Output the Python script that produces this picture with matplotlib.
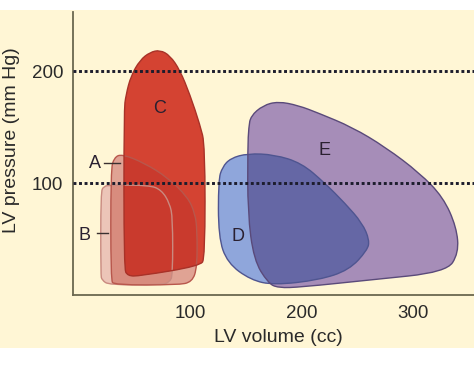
import matplotlib
matplotlib.use("Agg")
import matplotlib.pyplot as plt
from matplotlib.patches import PathPatch, Rectangle
from matplotlib.path import Path

# outlines of the pressure-volume loops (volume in cc, pressure in mm Hg)
loop_b = [(20, 92), (22.7, 97.3), (29, 98.2), (63.6, 98.2), (74.5, 93.8), (81.8, 82),
          (84.5, 68.8), (84.5, 18), (81.8, 11.6), (74.5, 9), (27.3, 9), (21, 13.4), (20, 18)]
loop_a = [(39, 126), (59, 118), (80, 105), (98, 87.5), (104.5, 73), (106.4, 58),
          (106.4, 25), (102, 11.6), (89, 9), (32, 9), (29, 13.4), (29, 111.6), (32, 123)]
loop_c = [(40.8, 24), (40.8, 165), (42.6, 179), (47.1, 196), (55.2, 210), (64.1, 217),
          (73.1, 219), (82.1, 214), (91, 201), (100, 179), (109, 152), (113.5, 134),
          (113.5, 33), (109, 26), (55, 17), (44, 17)]
loop_d = [(125.5, 102.7), (129, 114.3), (136.4, 122.3), (151.8, 126.5), (175.5, 125.5),
          (200, 118), (221, 100), (239, 82), (254.5, 64.3), (261, 49), (259, 40),
          (242.7, 22.3), (215.5, 13.4), (175.5, 8.9), (154.5, 13.4), (133.6, 28.6),
          (125.5, 51.8)]
loop_e = [(152.7, 150), (154.5, 160), (165.5, 169.5), (179, 173), (197, 169.5),
          (215.5, 162.5), (245.5, 150), (275.5, 132), (306, 109), (327, 87.5), (339, 60.7),
          (341, 37.5), (330, 20.5), (261, 13.4), (200, 7.1), (179, 6.3), (170, 10.7),
          (157.3, 31.3), (151.8, 73.2), (151.8, 132)]

loop_names = ["A", "B", "C", "D", "E"]
name_pos = [(14.8, 118), (5.8, 53.6), (73, 167), (143, 52.7), (221, 129.5)]
leader_a = ([23, 37], [118, 118])
leader_b = ([16.6, 26.5], [55, 55])

ref_pressures = [100, 200]
x_ticks = [100, 200, 300]
y_ticks = [100, 200]

cream = "#fff6d5"
txt = "#2a2a2a"
plt.rcParams["font.family"] = ["Liberation Sans", "DejaVu Sans"]

fig = plt.figure(figsize=(4.74, 3.72), dpi=100)
fig.patch.set_facecolor("white")
fig.patches.append(Rectangle((0, 24 / 372), 1, 338 / 372, transform=fig.transFigure,
                             facecolor=cream, edgecolor="none", zorder=-10))
ax = fig.add_axes([73 / 474, 77 / 372, 401 / 474, 283 / 372])
ax.set_facecolor("none")


def rounded(pts):
    # closed quadratic bezier path: outline points act as control points
    n = len(pts)
    mids = [((pts[i][0] + pts[(i + 1) % n][0]) / 2, (pts[i][1] + pts[(i + 1) % n][1]) / 2)
            for i in range(n)]
    verts = [mids[-1]]
    codes = [Path.MOVETO]
    for i in range(n):
        verts += [pts[i], mids[i]]
        codes += [Path.CURVE3, Path.CURVE3]
    verts.append(mids[-1])
    codes.append(Path.CLOSEPOLY)
    return Path(verts, codes)


def fill(pts, color, clip=None, z=1):
    p = PathPatch(rounded(pts), facecolor=color, edgecolor="none", zorder=z)
    ax.add_patch(p)
    if clip is not None:
        p.set_clip_path(clip)
    return p


def outline(pts, color, z=3):
    ax.add_patch(PathPatch(rounded(pts), facecolor="none", edgecolor=color,
                           lw=1.0, zorder=z))


# red group
pb = fill(loop_b, "#ecc5b8")
pa = fill(loop_a, "#e0a394")
fill(loop_a, "#d88c7e", clip=pb, z=1.1)
pc = fill(loop_c, "#d44332", z=1.2)
fill(loop_a, "#c93a2d", clip=pc, z=1.3)
fill(loop_b, "#c93a2d", clip=pc, z=1.3)
outline(loop_b, "#c98a80")
outline(loop_a, "#b8574c")
outline(loop_c, "#a83228")

# blue / purple group
pe = fill(loop_e, "#a68db8")
pd = fill(loop_d, "#8fa6db", z=1.1)
fill(loop_d, "#6567a5", clip=pe, z=1.2)
outline(loop_d, "#4f5590")
outline(loop_e, "#5a4a7a")

for p in ref_pressures:
    ax.axhline(p, color="#1c1c2c", lw=2.1, ls=(0, (1, 0.9)), zorder=4)

for name, (x, y) in zip(loop_names, name_pos):
    ax.text(x, y, name, ha="center", va="center", fontsize=13, color="#2a2030", zorder=5)
ax.plot(*leader_a, color="#3a3030", lw=1, zorder=5)
ax.plot(*leader_b, color="#3a3030", lw=1, zorder=5)

ax.set_xlim(-4.9, 354.7)
ax.set_ylim(0, 253)
ax.set_xticks(x_ticks)
ax.set_yticks(y_ticks)
ax.tick_params(length=0, labelsize=13.5, labelcolor=txt, pad=7)
for s in ["top", "right"]:
    ax.spines[s].set_visible(False)
for s in ["left", "bottom"]:
    ax.spines[s].set_color("#6b6850")
    ax.spines[s].set_linewidth(1.3)

fig.text(278 / 474, 1 - 338 / 372, "LV volume (cc)", ha="center", va="center",
         fontsize=14, color=txt)
fig.text(12 / 474, 1 - 140 / 372, "LV pressure (mm Hg)", ha="center", va="center",
         rotation=90, fontsize=14, color=txt)

fig.savefig("out.png", dpi=100, facecolor="white")
